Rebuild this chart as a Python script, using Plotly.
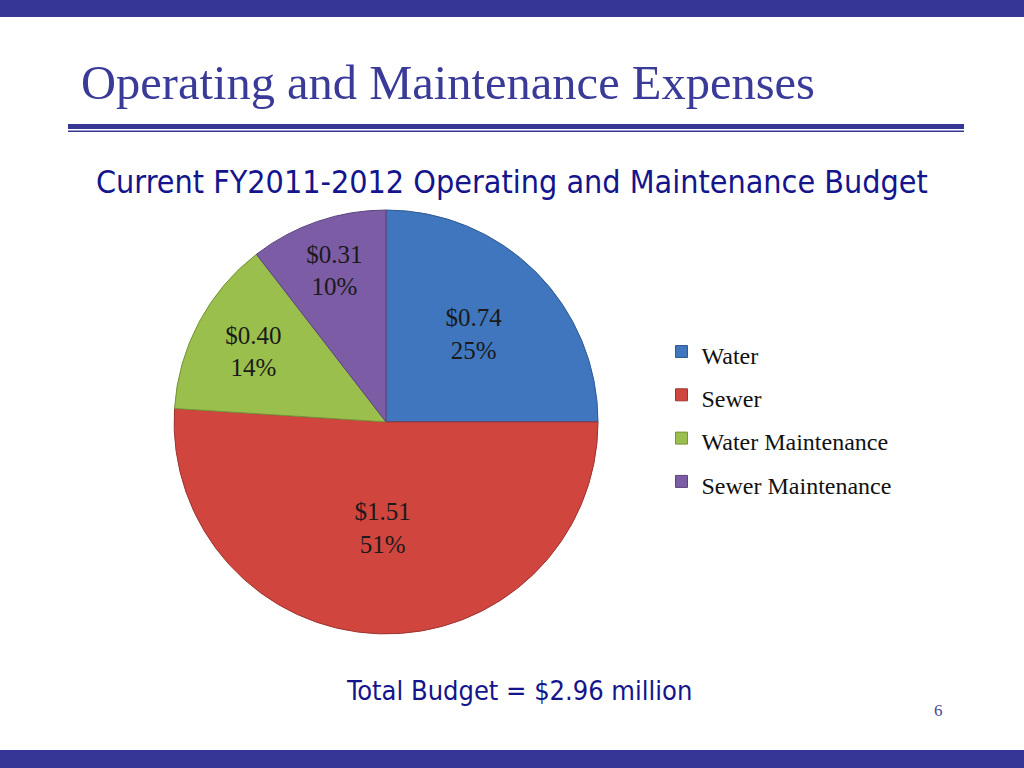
import plotly.graph_objects as go

# budget breakdown, $ millions
categories = ["Water", "Sewer", "Water Maintenance", "Sewer Maintenance"]
amounts = [0.74, 1.51, 0.40, 0.31]
slice_colors = ["#3f76bd", "#d0463f", "#9abf4c", "#7c5ca5"]
edge_colors = ["#2f5a92", "#9c3330", "#76933a", "#5c4480"]

title_text = "Operating and Maintenance Expenses"
subtitle_text = "Current FY2011-2012 Operating and Maintenance Budget"
total_text = "Total Budget = $2.96 million"
page_no = "6"

navy = "#363696"
serif = "Liberation Serif, Times New Roman, serif"
narrow = "Liberation Sans Narrow, DejaVu Sans Condensed, Noto Sans, sans-serif"

# legend line height comes from legend font size, so text is shrunk with a span
legend_names = ["<span style='font-size:24px'>%s</span>" % c for c in categories]

fig = go.Figure(go.Pie(
    labels=legend_names,
    values=amounts,
    customdata=categories,
    sort=False,
    direction="clockwise",
    rotation=0,
    marker=dict(colors=slice_colors, line=dict(color=edge_colors, width=1)),
    texttemplate="%{value:$.2f}<br>%{percent:.0%}",
    textposition="inside",
    insidetextorientation="horizontal",
    textfont=dict(family=serif, size=25, color="#1a1a1a"),
    hovertemplate="%{customdata}<br>%{value:$.2f} (%{percent:.0%})<extra></extra>",
    domain=dict(x=[0.170, 0.584], y=[0.1745, 0.7266]),
))

fig.update_layout(
    width=1024, height=768,
    margin=dict(l=0, r=0, t=0, b=0),
    paper_bgcolor="white",
    plot_bgcolor="white",
    showlegend=True,
    legend=dict(
        x=0.646, y=0.577, xanchor="left", yanchor="top",
        font=dict(family=serif, size=31, color="#111111"),
        bgcolor="rgba(0,0,0,0)",
    ),
    shapes=[
        dict(type="rect", xref="paper", yref="paper", x0=0, x1=1,
             y0=1 - 17 / 768, y1=1, fillcolor=navy, line=dict(width=0)),
        dict(type="rect", xref="paper", yref="paper", x0=0, x1=1,
             y0=0, y1=18 / 768, fillcolor=navy, line=dict(width=0)),
        dict(type="rect", xref="paper", yref="paper", x0=68 / 1024, x1=964 / 1024,
             y0=1 - 129 / 768, y1=1 - 124 / 768, fillcolor=navy, line=dict(width=0)),
        dict(type="rect", xref="paper", yref="paper", x0=68 / 1024, x1=964 / 1024,
             y0=1 - 132 / 768, y1=1 - 130.5 / 768, fillcolor=navy, line=dict(width=0)),
    ],
    annotations=[
        dict(text=title_text, xref="paper", yref="paper", x=79 / 1024, y=1 - 83 / 768,
             xanchor="left", yanchor="middle", showarrow=False,
             font=dict(family=serif, size=48.5, color="#3a3a98")),
        dict(text=subtitle_text, xref="paper", yref="paper", x=512 / 1024, y=1 - 182 / 768,
             xanchor="center", yanchor="middle", showarrow=False,
             font=dict(family=narrow, size=32, color="#14148c")),
        dict(text=total_text, xref="paper", yref="paper", x=519 / 1024, y=1 - 690 / 768,
             xanchor="center", yanchor="middle", showarrow=False,
             font=dict(family=narrow, size=27, color="#14148c")),
        dict(text=page_no, xref="paper", yref="paper", x=938 / 1024, y=1 - 710 / 768,
             xanchor="center", yanchor="middle", showarrow=False,
             font=dict(family=serif, size=17, color="#4a4a9a")),
    ],
)

fig.write_html("out.html", config={"displayModeBar": False},
               post_script="document.body.style.margin='0';")
